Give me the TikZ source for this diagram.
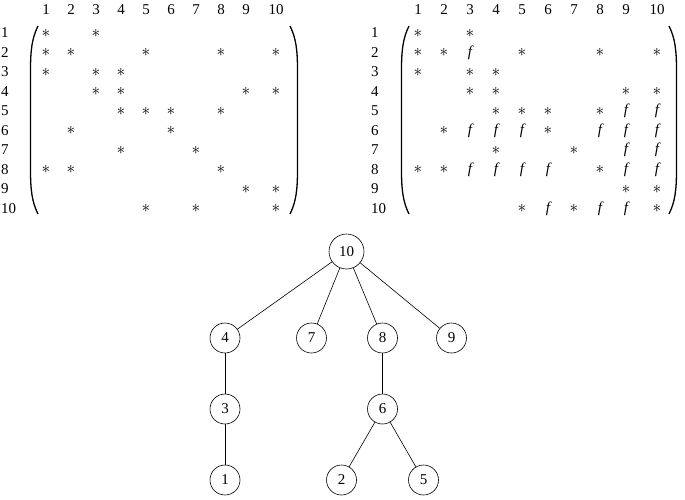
\documentclass[tikz,border=0pt]{standalone}
\usepackage{fontspec}
\setmainfont{Liberation Serif}
\usetikzlibrary{positioning}

\begin{document}
\begin{tikzpicture}[
  x=1pt,y=-1pt,
  every node/.style={font=\fontsize{15}{18}\selectfont},
  lbl/.style={inner sep=0pt},
  rowlbl/.style={inner sep=0pt,anchor=west},
  entry/.style={inner sep=0pt,font=\fontsize{16}{18}\selectfont},
  paren/.style={line width=1.3pt},
  vert/.style={circle,draw,line width=.6pt,minimum size=30pt,inner sep=0pt},
  edge/.style={line width=.6pt}
]
  \useasboundingbox (0,0) rectangle (685,499);

  % left matrix: pattern of A
  \foreach \c in {1,...,10}
    \node[lbl] (lh\c) at ({46+25*(\c-1)+ifthenelse(\c==10,5,0)},10) {\c};
  \foreach \r in {1,...,10}
    \node[rowlbl] (lr\r) at (1,{33+19.5*(\r-1)}) {\r};
  \foreach \r/\c in {1/1,1/3,2/1,2/2,2/5,2/8,2/10,3/1,3/3,3/4,4/3,4/4,4/9,4/10,
      5/4,5/5,5/6,5/8,6/2,6/6,7/4,7/7,8/1,8/2,8/8,9/9,9/10,10/5,10/7,10/10}
    \node[entry] at ({46+25*(\c-1)+ifthenelse(\c==10,5,0)},{33+19.5*(\r-1)}) {$\ast$};
  \draw[paren] (38,26) .. controls (32,38) and (30.5,50) .. (30.5,70) -- (30.5,170)
    .. controls (30.5,190) and (32,202) .. (38,214);
  \draw[paren] (290,26) .. controls (296,38) and (297.5,50) .. (297.5,70) -- (297.5,170)
    .. controls (297.5,190) and (296,202) .. (290,214);

  % right matrix: pattern of the filled factor
  \foreach \c in {1,...,10}
    \node[lbl] (rh\c) at ({418+26*(\c-1)+ifthenelse(\c==10,5,0)},10) {\c};
  \foreach \r in {1,...,10}
    \node[rowlbl] (rr\r) at (371,{33+19.5*(\r-1)}) {\r};
  \foreach \r/\c in {1/1,1/3,2/1,2/2,2/5,2/8,2/10,3/1,3/3,3/4,4/3,4/4,4/9,4/10,
      5/4,5/5,5/6,5/8,6/2,6/6,7/4,7/7,8/1,8/2,8/8,9/9,9/10,10/5,10/7,10/10}
    \node[entry] at ({418+26*(\c-1)+ifthenelse(\c==10,5,0)},{33+19.5*(\r-1)}) {$\ast$};
  \foreach \r/\c in {2/3,5/9,5/10,6/3,6/4,6/5,6/8,6/9,6/10,7/9,7/10,
      8/3,8/4,8/5,8/6,8/9,8/10,10/6,10/8,10/9}
    \node[entry] at ({418+26*(\c-1)+ifthenelse(\c==10,5,0)},{33+19.5*(\r-1)}) {\fontsize{15}{18}\selectfont\itshape f};
  \draw[paren] (409,26) .. controls (403,38) and (401.5,50) .. (401.5,70) -- (401.5,170)
    .. controls (401.5,190) and (403,202) .. (409,214);
  \draw[paren] (669,26) .. controls (675,38) and (676.5,50) .. (676.5,70) -- (676.5,170)
    .. controls (676.5,190) and (675,202) .. (669,214);

  % elimination tree
  \node[vert,minimum size=35pt] (t10) at (346.5,251.5) {10};
  \node[vert] (t4) at (225,338) {4};
  \node[vert] (t7) at (311.5,338) {7};
  \node[vert] (t8) at (382.5,338) {8};
  \node[vert] (t9) at (451.5,338) {9};
  \node[vert] (t3) at (225,409) {3};
  \node[vert] (t6) at (382.5,409) {6};
  \node[vert] (t1) at (225,480) {1};
  \node[vert] (t2) at (341.5,480) {2};
  \node[vert] (t5) at (423.5,480) {5};
  \foreach \a/\b in {t10/t4,t10/t7,t10/t8,t10/t9,t4/t3,t3/t1,t8/t6,t6/t2,t6/t5}
    \draw[edge] (\a) -- (\b);
\end{tikzpicture}
\end{document}
